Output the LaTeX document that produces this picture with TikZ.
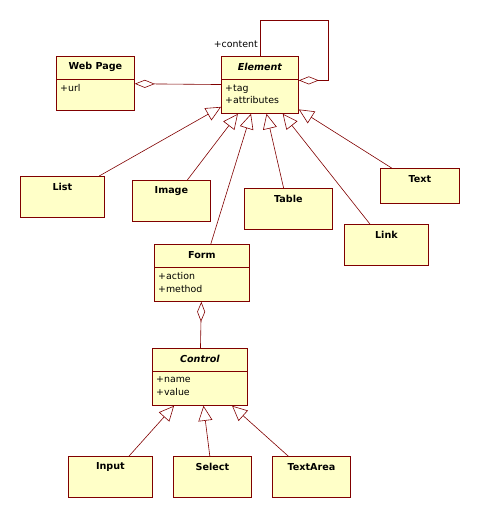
\documentclass[tikz,border=0pt]{standalone}
\usepackage{fontspec}
\setmainfont{DejaVu Sans}
\usepackage{xcolor}
\usepackage{tikz}
\usetikzlibrary{positioning,arrows.meta,calc}

\definecolor{umlline}{RGB}{128,0,0}
\definecolor{umlfill}{RGB}{255,255,200}

\tikzset{
  cls/.style={draw=umlline, fill=umlfill, line width=0.8pt, anchor=north west, inner sep=0pt},
  ttl/.style={font=\fontsize{9.6}{11}\selectfont\bfseries, inner sep=0pt},
  attr/.style={font=\fontsize{9.4}{12.5}\selectfont, align=left, anchor=north west, inner sep=0pt},
  gen/.style={draw=umlline, line width=0.6pt, -{Triangle[open, length=15pt, width=14pt]}},
  agg/.style={draw=umlline, line width=0.6pt, -{Diamond[open, length=20pt, width=8pt]}},
}

\begin{document}
\begin{tikzpicture}[x=1pt, y=-1pt]

\useasboundingbox (0,0) rectangle (480,518);

% Classes
\node[cls, minimum width=78pt, minimum height=54pt] (web) at (56,56) {};
\node[cls, minimum width=77pt, minimum height=57pt] (el) at (221,56) {};
\node[cls, minimum width=84pt, minimum height=41pt] (list) at (20,176) {};
\node[cls, minimum width=78pt, minimum height=41pt] (img) at (132,180) {};
\node[cls, minimum width=88pt, minimum height=41pt] (tab) at (244,188) {};
\node[cls, minimum width=79pt, minimum height=35pt] (txt) at (380,168) {};
\node[cls, minimum width=84pt, minimum height=41pt] (lnk) at (344,224) {};
\node[cls, minimum width=95pt, minimum height=57pt] (form) at (154,244) {};
\node[cls, minimum width=95pt, minimum height=57pt] (ctrl) at (152,348) {};
\node[cls, minimum width=84pt, minimum height=41pt] (inp) at (68,456) {};
\node[cls, minimum width=78pt, minimum height=41pt] (sel) at (173,456) {};
\node[cls, minimum width=78pt, minimum height=41pt] (area) at (272,456) {};

% Titles
\node[ttl] (webT) at ([yshift=-11pt]web.north) {Web Page};
\node[ttl] (elT) at ([yshift=-11pt]el.north) {\itshape Element};
\node[ttl] (listT) at ([yshift=-11pt]list.north) {List};
\node[ttl] (imgT) at ([yshift=-11pt]img.north) {Image};
\node[ttl] (tabT) at ([yshift=-11pt]tab.north) {Table};
\node[ttl] (txtT) at ([yshift=-11pt]txt.north) {Text};
\node[ttl] (lnkT) at ([yshift=-11pt]lnk.north) {Link};
\node[ttl] (formT) at ([yshift=-11pt]form.north) {Form};
\node[ttl] (ctrlT) at ([yshift=-11pt]ctrl.north) {\itshape Control};
\node[ttl] (inpT) at ([yshift=-11pt]inp.north) {Input};
\node[ttl] (selT) at ([yshift=-11pt]sel.north) {Select};
\node[ttl] (areaT) at ([yshift=-11pt]area.north) {TextArea};

% Compartments
\foreach \c in {web, el, form, ctrl}
  \draw[umlline, line width=0.8pt] ([yshift=-23pt]\c.north west) -- ([yshift=-23pt]\c.north east);

% Attributes
\node[attr] (webA) at ([xshift=4pt, yshift=-28.5pt]web.north west) {+url};
\node[attr] (elA) at ([xshift=4pt, yshift=-28.5pt]el.north west) {+tag\\+attributes};
\node[attr] (formA) at ([xshift=4pt, yshift=-28.5pt]form.north west) {+action\\+method};
\node[attr] (ctrlA) at ([xshift=4pt, yshift=-28.5pt]ctrl.north west) {+name\\+value};

% Aggregations
\draw[agg] (el) -- (web);
\draw[agg] (ctrl) -- (form);
\coordinate (loop) at (328,20);
\draw[agg] (el.north) |- (loop) |- ([yshift=4.5pt]el.east);
\node[attr, anchor=east, font=\fontsize{9.4}{11}\selectfont] (cnt) at ([xshift=-2pt, yshift=12pt]el.north) {+content};

% Generalizations
\foreach \s in {list, img, form, tab, lnk, txt}
  \draw[gen] (\s) -- (el);
\foreach \s in {inp, sel, area}
  \draw[gen] (\s) -- (ctrl);

\end{tikzpicture}
\end{document}
